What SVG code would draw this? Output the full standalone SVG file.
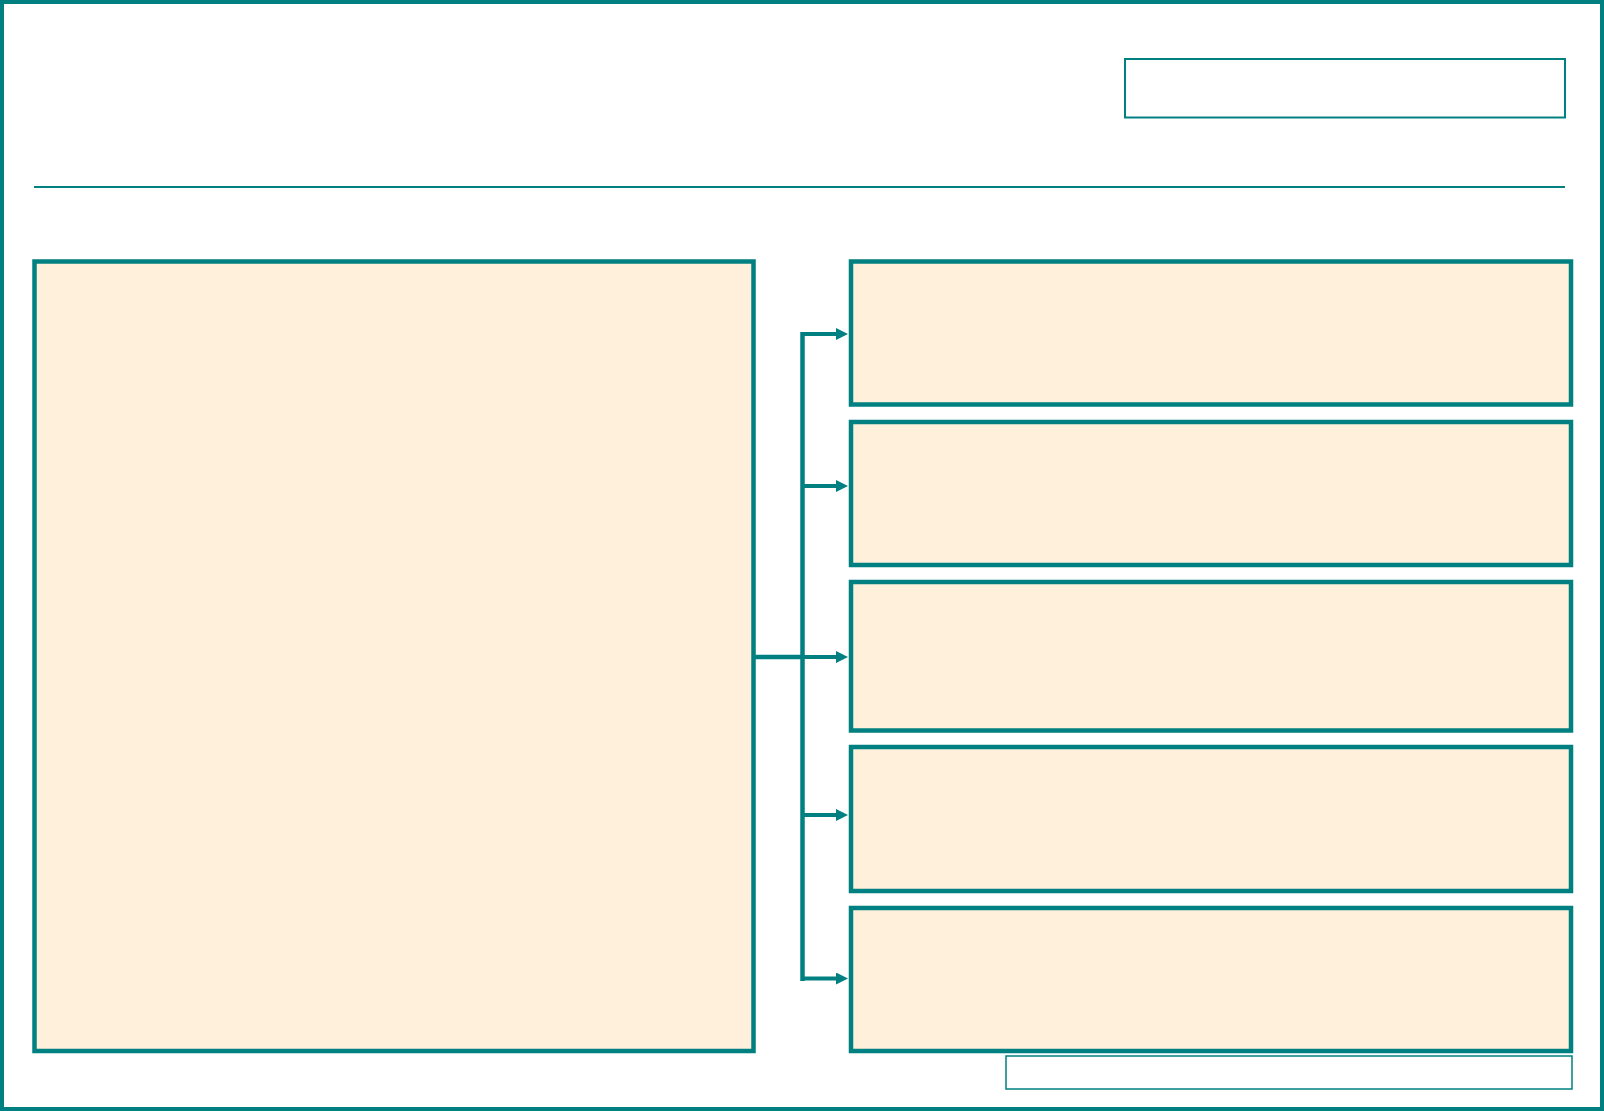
<svg xmlns="http://www.w3.org/2000/svg" width="1604" height="1111" viewBox="0 0 1604 1111">
<style>
.frame{fill:#ffffff;stroke:#008080;stroke-width:4}
.thin{fill:none;stroke:#008080;stroke-width:2}
.hair{fill:none;stroke:#008080;stroke-width:1.5}
.node{fill:#FEF0DB;stroke:#008080;stroke-width:4.5}
.conn{fill:none;stroke:#008080;stroke-width:4.5}
.branch{fill:none;stroke:#008080;stroke-width:4;marker-end:url(#arr)}
</style>
<defs>
<marker id="arr" markerUnits="userSpaceOnUse" markerWidth="12" markerHeight="12" refX="0" refY="6" orient="auto" viewBox="0 0 12 12">
<path d="M0,0 L12,6 L0,12 Z" fill="#008080"/>
</marker>
</defs>
<rect class="frame" x="2" y="2" width="1600" height="1107"/>
<g id="header">
<rect id="header-box" class="thin" x="1125" y="59" width="440" height="58.5"/>
<line class="thin" x1="34" y1="187" x2="1565" y2="187"/>
</g>
<g id="source"><rect class="node" x="34.5" y="261.5" width="719" height="789.5"/></g>
<g id="target1"><rect class="node" x="851" y="261.5" width="720" height="143"/></g>
<g id="target2"><rect class="node" x="851" y="422" width="720" height="143"/></g>
<g id="target3"><rect class="node" x="851" y="582" width="720" height="148.5"/></g>
<g id="target4"><rect class="node" x="851" y="747" width="720" height="144"/></g>
<g id="target5"><rect class="node" x="851" y="908" width="720" height="143"/></g>
<g id="footer"><rect class="hair" x="1006" y="1056" width="566" height="33"/></g>
<g id="connectors">
<path class="conn" d="M753,657 H802.5"/>
<path class="conn" d="M802.5,332 V981"/>
<path class="branch" d="M801,334 H836"/>
<path class="branch" d="M801,486 H836"/>
<path class="branch" d="M801,657 H836"/>
<path class="branch" d="M801,815 H836"/>
<path class="branch" d="M801,978.5 H836"/>
</g>
</svg>
